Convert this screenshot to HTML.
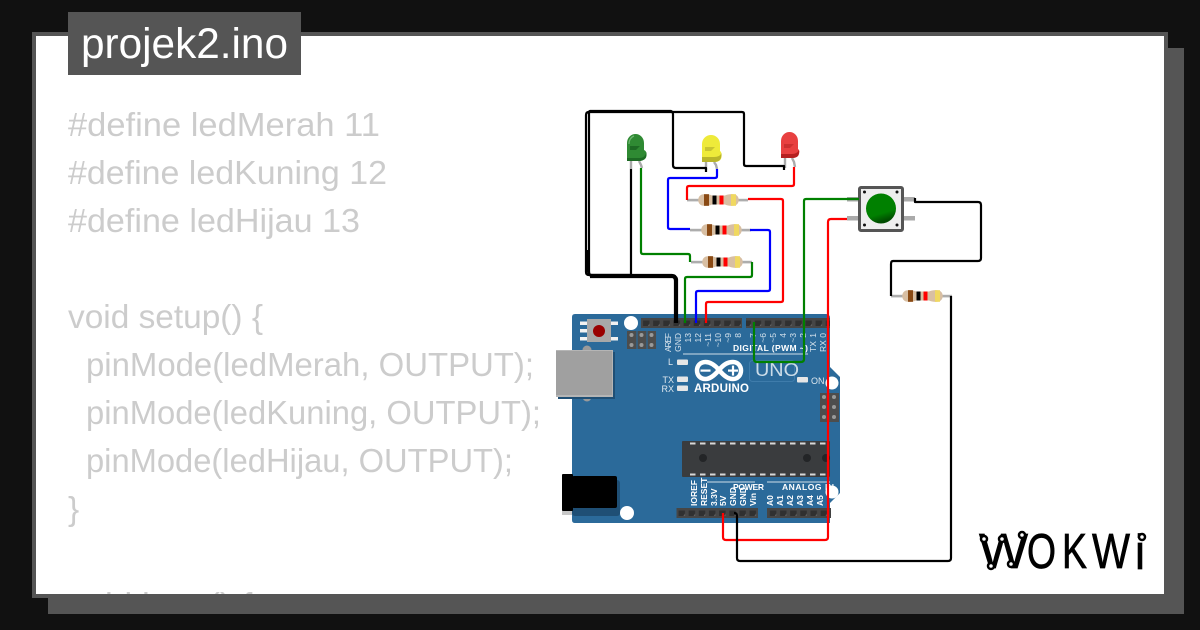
<!DOCTYPE html>
<html><head><meta charset="utf-8"><style>
html,body{margin:0;padding:0;background:#111;width:1200px;height:630px;overflow:hidden}
svg{display:block}
text{font-family:"Liberation Sans",sans-serif}
.code{font-size:33.5px;fill:#ccc}
.w{fill:none;stroke-width:2.2;stroke-linejoin:round}
.p{font-size:8.5px;fill:#d5e2ec;text-anchor:end}
.q{font-size:8.5px;fill:#d5e2ec}
.b{font-size:8.5px;fill:#fff;font-weight:bold;text-anchor:start}
.lab{font-size:9px;fill:#dfe8ef;text-anchor:end}
.lg{font-size:49px;fill:#000;stroke:#000;stroke-width:.7}
</style></head><body>
<svg width="1200" height="630" viewBox="0 0 1200 630" xmlns="http://www.w3.org/2000/svg">
<defs>
<pattern id="pins" x="641" y="318" width="10.15" height="10" patternUnits="userSpaceOnUse">
<rect width="10.15" height="10" fill="#464646"/><rect x="2" y="2.5" width="6.5" height="5.5" fill="#303030"/><path d="M3 8H7L8.5 5.5V8Z" fill="#666"/>
</pattern>
<pattern id="pins2" x="676.5" y="508" width="10.15" height="10" patternUnits="userSpaceOnUse">
<rect width="10.15" height="10" fill="#464646"/><rect x="2" y="2.5" width="6.5" height="5.5" fill="#303030"/><path d="M3 8H7L8.5 5.5V8Z" fill="#666"/>
</pattern>
<pattern id="dash" x="690" y="0" width="10" height="10" patternUnits="userSpaceOnUse"><rect width="5.5" height="10" fill="#d8d8d8"/></pattern>
<clipPath id="cl"><rect x="36" y="36" width="1128" height="558"/></clipPath>
<linearGradient id="gb" x1="0" y1="0" x2="0.3" y2="1"><stop offset="0.75" stop-color="#008000"/><stop offset="1" stop-color="#004d00"/></linearGradient>
<g id="res">
<rect x="0" y="-1.2" width="61" height="2.6" fill="#adadad"/>
<path d="M15-5.5C18-6.2 22-6 25-4.500H38C41-6 45-6.200 48-5.500 53-4 53 4 48 5.500 45 6.200 41 6 38 4.500H25C22 6 18 6.200 15 5.500 10 4 10-4 15-5.500Z" fill="#d8bfa3"/>
<rect x="17" y="-5.800" width="5" height="11.600" fill="#8a4a14"/>
<rect x="25.500" y="-4.500" width="4" height="9" fill="#000"/>
<rect x="32.500" y="-4.500" width="4" height="9" fill="#f00"/>
<rect x="44" y="-5.800" width="5" height="11.600" fill="#f0d860"/>
</g>
</defs>

<rect width="1200" height="630" fill="#111"/>
<rect x="48" y="48" width="1136" height="566" fill="#555"/>
<rect x="32" y="32" width="1136" height="566" fill="#555"/>
<rect x="36" y="36" width="1128" height="558" fill="#fff"/>

<g clip-path="url(#cl)">
<text class="code" x="68" y="136" textLength="312" lengthAdjust="spacingAndGlyphs">#define ledMerah 11</text>
<text class="code" x="68" y="184" textLength="319" lengthAdjust="spacingAndGlyphs">#define ledKuning 12</text>
<text class="code" x="68" y="232" textLength="292" lengthAdjust="spacingAndGlyphs">#define ledHijau 13</text>
<text class="code" x="68" y="328" textLength="195" lengthAdjust="spacingAndGlyphs">void setup() {</text>
<text class="code" x="86" y="376" textLength="448" lengthAdjust="spacingAndGlyphs">pinMode(ledMerah, OUTPUT);</text>
<text class="code" x="86" y="424" textLength="455" lengthAdjust="spacingAndGlyphs">pinMode(ledKuning, OUTPUT);</text>
<text class="code" x="86" y="472" textLength="427" lengthAdjust="spacingAndGlyphs">pinMode(ledHijau, OUTPUT);</text>
<text class="code" x="68" y="520">}</text>
<text class="code" x="68" y="616" textLength="185" lengthAdjust="spacingAndGlyphs">void loop() {</text>
</g>

<rect x="68" y="12" width="233" height="63" fill="#555"/>
<text x="81" y="58" font-size="43" fill="#fff" textLength="207" lengthAdjust="spacingAndGlyphs">projek2.ino</text>

<!-- Board -->
<path d="M575 314H826Q830 314 830 318V367L840 377V493L830 503V523H575Q572 523 572 520V317Q572 314 575 314Z" fill="#2b6a9a"/>
<circle cx="631" cy="323" r="7" fill="#fff"/><circle cx="627" cy="513" r="7" fill="#fff"/>
<circle cx="832" cy="383" r="6.5" fill="#fff"/><circle cx="832" cy="492" r="6.5" fill="#fff"/>

<rect x="641" y="318" width="101" height="10" fill="url(#pins)"/>
<rect x="746" y="318" width="84" height="10" fill="url(#pins)"/>
<rect x="676.5" y="508" width="81.5" height="10" fill="url(#pins2)"/>
<rect x="767" y="508" width="64" height="10" fill="url(#pins2)"/>

<!-- reset -->
<g fill="#f2f2f2"><rect x="580" y="321.5" width="7" height="3.5"/><rect x="580" y="329" width="7" height="3.5"/><rect x="580" y="337" width="7" height="3.5"/><rect x="611" y="321.5" width="7" height="3.5"/><rect x="611" y="337" width="7" height="3.5"/></g>
<rect x="587" y="319" width="24" height="23" fill="#a8a8a8"/><circle cx="599" cy="331" r="6" fill="#990000"/>
<!-- ICSP -->
<rect x="627" y="331" width="29" height="18" fill="#4d4d4d"/>
<rect x="636.4" y="331" width="1.2" height="18" fill="#2b6a9a"/><rect x="646.4" y="331" width="1.2" height="18" fill="#2b6a9a"/>
<g fill="#999"><circle cx="631.5" cy="335" r="2"/><circle cx="641.5" cy="335" r="2"/><circle cx="651.5" cy="335" r="2"/><circle cx="631.5" cy="345" r="2"/><circle cx="641.5" cy="345" r="2"/><circle cx="651.5" cy="345" r="2"/></g>
<rect x="820" y="393" width="19" height="29" fill="#4d4d4d"/>
<g fill="#999"><circle cx="824" cy="397" r="2"/><circle cx="834" cy="397" r="2"/><circle cx="824" cy="407" r="2"/><circle cx="834" cy="407" r="2"/><circle cx="824" cy="417" r="2"/><circle cx="834" cy="417" r="2"/></g>
<!-- USB -->
<circle cx="587" cy="350" r="4.5" fill="#9a9a9a"/><circle cx="587" cy="397" r="4.5" fill="#9a9a9a"/>
<rect x="558" y="352" width="57" height="47" fill="#1f4f75"/>
<rect x="556" y="350" width="57" height="47" fill="#b5b5b5"/><rect x="556" y="351" width="56" height="44" fill="#a0a0a0"/>
<!-- Jack -->
<rect x="572" y="480" width="48" height="36" rx="3" fill="#1f4f75"/>
<rect x="562" y="478" width="10" height="37" fill="#c8c8c8"/>
<rect x="562" y="474" width="11" height="37" rx="1" fill="#000"/>
<rect x="572" y="476" width="45" height="32" rx="2" fill="#000"/>
<!-- Chip -->
<rect x="682" y="441" width="148" height="36" rx="1" fill="#3a3c3e"/>
<rect x="690" y="442.5" width="140" height="2" fill="url(#dash)"/>
<rect x="690" y="473.5" width="140" height="2" fill="url(#dash)"/>
<circle cx="703" cy="458" r="4" fill="#232527"/><circle cx="807" cy="458" r="4" fill="#232527"/><circle cx="826" cy="458" r="4" fill="#232527"/>

<!-- Labels digital -->
<text class="p" transform="rotate(-90 671 333)" x="671" y="333" textLength="19">AREF</text>
<text class="p" transform="rotate(-90 681 333)" x="681" y="333">GND</text>
<text class="p" transform="rotate(-90 691 333)" x="691" y="333">13</text>
<text class="p" transform="rotate(-90 701 333)" x="701" y="333">12</text>
<text class="p" transform="rotate(-90 711 333)" x="711" y="333">~11</text>
<text class="p" transform="rotate(-90 721 333)" x="721" y="333">~10</text>
<text class="p" transform="rotate(-90 731 333)" x="731" y="333">~9</text>
<text class="p" transform="rotate(-90 741 333)" x="741" y="333">8</text>
<text class="p" transform="rotate(-90 756 333)" x="756" y="333">7</text>
<text class="p" transform="rotate(-90 766 333)" x="766" y="333">~6</text>
<text class="p" transform="rotate(-90 776 333)" x="776" y="333">~5</text>
<text class="p" transform="rotate(-90 786 333)" x="786" y="333">4</text>
<text class="p" transform="rotate(-90 796 333)" x="796" y="333">~3</text>
<text class="p" transform="rotate(-90 806 333)" x="806" y="333">2</text>
<text class="q" transform="rotate(-90 816 352)" x="816" y="352">TX</text>
<text class="p" transform="rotate(-90 816 333)" x="816" y="333">1</text>
<text class="q" transform="rotate(-90 826 352)" x="826" y="352">RX</text>
<text class="p" transform="rotate(-90 826 333)" x="826" y="333">0</text>
<text x="733" y="351" font-size="8.5" font-weight="bold" fill="#fff" textLength="75">DIGITAL (PWM ~)</text>
<rect x="683" y="353.5" width="125" height="1" fill="#cfdde8"/>
<text class="lab" x="673" y="365">L</text>
<text class="lab" x="674" y="383">TX</text>
<text class="lab" x="674" y="392">RX</text>
<g fill="#e6e6e6"><rect x="677" y="359.5" width="11" height="5.5" rx="1"/><rect x="677" y="376.5" width="11" height="5.5" rx="1"/><rect x="677" y="385.5" width="11" height="5.5" rx="1"/><rect x="797" y="377" width="11" height="5.5" rx="1"/></g>
<text x="811" y="384" font-size="9" fill="#dfe8ef">ON</text>
<!-- logo -->
<path d="M719 370C714 364 710 362 705.500 362C700 362 697 366 697 370.500C697 375 700 379 705.500 379C710 379 714 376 719 370C724 364 728 362 733 362C738 362 741 366 741 370.500C741 375 738 379 733 379C728 379 724 376 719 370Z" fill="none" stroke="#fff" stroke-width="4.5"/>
<rect x="700.500" y="369.500" width="10" height="2.2" fill="#fff"/>
<rect x="728" y="369.500" width="10" height="2.2" fill="#fff"/><rect x="731.900" y="365.600" width="2.2" height="10" fill="#fff"/>
<text x="694" y="392" font-size="11.5" font-weight="bold" fill="#fff" textLength="55">ARDUINO</text>
<rect x="749.5" y="360.5" width="45" height="21" rx="3" fill="none" stroke="#3f7cab"/>
<text x="755" y="376" font-size="18.5" fill="#e8f0f6" fill-opacity=".85" textLength="44" lengthAdjust="spacingAndGlyphs">UNO</text>
<!-- Labels power -->
<g>
<text class="b" transform="rotate(-90 697 506)" x="697" y="506">IOREF</text>
<text class="b" transform="rotate(-90 707 506)" x="707" y="506">RESET</text>
<text class="b" transform="rotate(-90 717 506)" x="717" y="506">3.3V</text>
<text class="b" transform="rotate(-90 726 506)" x="726" y="506">5V</text>
<text class="b" transform="rotate(-90 736 506)" x="736" y="506">GND</text>
<text class="b" transform="rotate(-90 746 506)" x="746" y="506">GND</text>
<text class="b" transform="rotate(-90 756 506)" x="756" y="506">Vin</text>
<text class="b" transform="rotate(-90 773 506)" x="773" y="506">A0</text>
<text class="b" transform="rotate(-90 783 506)" x="783" y="506">A1</text>
<text class="b" transform="rotate(-90 793 506)" x="793" y="506">A2</text>
<text class="b" transform="rotate(-90 803 506)" x="803" y="506">A3</text>
<text class="b" transform="rotate(-90 813 506)" x="813" y="506">A4</text>
<text class="b" transform="rotate(-90 823 506)" x="823" y="506">A5</text>
</g>
<text x="733" y="490" font-size="8.5" font-weight="bold" fill="#fff" textLength="31">POWER</text>
<text x="782" y="490" font-size="8.5" font-weight="bold" fill="#fff" textLength="52">ANALOG IN</text>
<rect x="707" y="481.5" width="48" height="1" fill="#cfdde8"/><rect x="767" y="481.5" width="63" height="1" fill="#cfdde8"/>

<!-- Resistors -->
<use href="#res" x="687" y="200"/>
<use href="#res" x="690" y="230"/>
<use href="#res" x="691" y="262"/>
<use href="#res" x="891" y="296"/>

<!-- LEDs -->
<g stroke="#aaa" stroke-width="2.4" fill="none">
<path d="M631 160V169M639 161L641 165 642 168"/>
<path d="M706 161V170M714 162L716 165 717 169"/>
<path d="M785 158V168M792 158L794 162 795 167"/>
</g>
<g>
<path d="M627 143A8.500 9 0 0 1 644 143V150Q647 151 646.500 156 646 160 640 161H627Z" fill="#2f8a33"/>
<path d="M627 158H640Q645 158 646.500 152 647 160 640 161H627Z" fill="#1d6a24"/>
<path d="M630 146H640L636 150H630Z" fill="#1d6a24"/>
<path d="M629 144A7 8 0 0 1 634 136" fill="none" stroke="#6fb672" stroke-width="1.2"/>
</g>
<g>
<path d="M702 144A9 9 0 0 1 720 144V151Q722 152 721.500 157 721 162 714 162H702Z" fill="#eeea3a"/>
<path d="M702 157H714Q720 157 721.500 153 722 162 714 162H702Z" fill="#b9b52a"/>
<path d="M705 147H715L711 151H705Z" fill="#c8c431"/>
</g>
<g>
<path d="M781 141A8.500 9 0 0 1 798 141V149Q800 150 799 154 798 158 792 158H781Z" fill="#e84040"/>
<path d="M781 154H792Q797 154 799 150 800 158 792 158H781Z" fill="#b52020"/>
<path d="M784 144H794L790 148H784Z" fill="#cc3030"/>
</g>

<!-- Button -->
<g fill="#aaa"><rect x="847" y="197" width="11" height="4.5"/><rect x="847" y="216" width="11" height="4.5"/><rect x="904" y="197" width="11" height="4.5"/><rect x="904" y="216" width="11" height="4.5"/></g>
<rect x="859.5" y="187.5" width="43" height="43" rx="1.5" fill="#eee" stroke="#555" stroke-width="3"/>
<circle cx="864.5" cy="192" r="1.5" fill="#111"/><circle cx="897" cy="192" r="1.5" fill="#111"/><circle cx="864.5" cy="225" r="1.5" fill="#111"/><circle cx="897" cy="225" r="1.5" fill="#111"/>
<circle cx="881" cy="208.500" r="15" fill="url(#gb)"/>

<!-- Wires -->
<g class="w">
<path stroke="#000" d="M784 170V166H746Q744 166 744 164V114Q744 112 742 112H589Q586 112 586 115V272Q586 275 589 275H672Q676 275 676 279V323"/>
<path stroke="#000" d="M706 172V168H676Q673 168 673 165V114Q673 112 671 111H590Q589 111 589 113V271Q589 276 592 276H672Q677 276 677 280V323"/>
<path stroke="#000" d="M631 169V275H592Q588 275 588 271V250"/>
<path stroke="#000" d="M590 277H672Q675 277 675 281V323"/>
<path stroke="#008000" d="M641 168V252Q641 254 643 254H688Q690 254 690 256V262"/>
<path stroke="#008000" d="M752 262V275Q752 277 750 277H687Q685 277 685 279V323"/>
<path stroke="#0000ff" d="M717 169V176Q717 178 715 178H670Q668 178 668 180V227Q668 229 670 229H690"/>
<path stroke="#0000ff" d="M750 230H768Q770 230 770 232V289Q770 291 768 291H698Q696 291 696 293V323"/>
<path stroke="#f00" d="M794 167V184Q794 186 792 186H689Q687 186 687 188V200"/>
<path stroke="#f00" d="M748 199H781Q783 199 783 201V300Q783 302 781 302H708Q706 302 706 304V323"/>
<path stroke="#008000" d="M859 199H806Q804 199 804 201V359Q804 362 801 362H757Q754 362 754 359V322"/>
<path stroke="#f00" d="M847 219H831Q828 219 828 222V537Q828 540 825 540H726Q723 540 723 537V513"/>
<path stroke="#000" d="M915 198V202H978Q981 202 981 205V258Q981 261 978 261H893Q891 261 891 264V296"/>
<path stroke="#000" d="M951 296V558Q951 561 948 561H740Q737 561 737 558V516Q737 513 734 513"/>
</g>

<!-- Wokwi logo -->
<text class="lg" x="979" y="568" textLength="49" lengthAdjust="spacingAndGlyphs">W</text>
<text class="lg" x="1027" y="568" textLength="29" lengthAdjust="spacingAndGlyphs">O</text>
<text class="lg" x="1062" y="568" textLength="25" lengthAdjust="spacingAndGlyphs">K</text>
<text class="lg" x="1092" y="568" textLength="38" lengthAdjust="spacingAndGlyphs">W</text>
<text class="lg" x="1135" y="569" textLength="10" lengthAdjust="spacingAndGlyphs">i</text>
<g fill="#fff" stroke="#000" stroke-width="2.5">
<circle cx="984" cy="539" r="3"/><circle cx="1002" cy="539" r="3"/><circle cx="1022" cy="535" r="3"/><circle cx="991" cy="566" r="3"/><circle cx="1011" cy="564" r="3"/><circle cx="1142" cy="537" r="3"/>
</g>
</svg>
</body></html>
